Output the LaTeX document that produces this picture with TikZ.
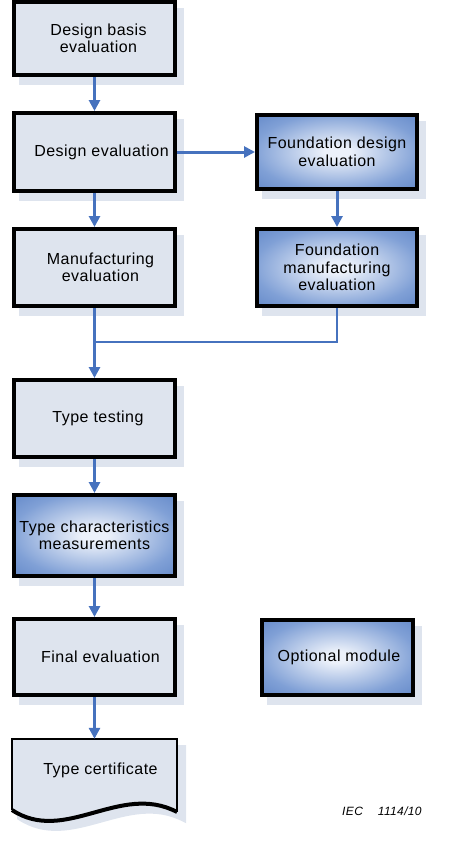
\documentclass[tikz,border=0pt]{standalone}
\usepackage{fontspec}
\setmainfont{Liberation Sans}[LetterSpace=3]
\usetikzlibrary{arrows.meta,shadows}

\definecolor{dotfill}{RGB}{222,228,238}
\definecolor{modblue}{RGB}{64,108,184}
\definecolor{modmid}{RGB}{128,160,214}
\definecolor{modlight}{RGB}{236,241,250}
\definecolor{linkblue}{RGB}{70,114,190}
\pgfdeclareradialshading{modshade}{\pgfpoint{0bp}{0bp}}{color(0bp)=(modlight); color(4bp)=(modlight); color(26bp)=(modmid); color(50bp)=(modblue)}

\begin{document}
\begin{tikzpicture}[x=1pt,y=-1pt]
            \tikzstyle{every node}=[font=\fontsize{16}{17.5}\selectfont, align=center, text=black]
            \tikzstyle{stage}=[rectangle, draw=black, line width=4pt, minimum width=161pt, minimum height=77pt, inner sep=0pt,
                drop shadow={shadow xshift=7pt, shadow yshift=-8pt, fill=dotfill, draw=dotfill, line width=4pt, opacity=1}]
            \tikzstyle{plain}=[stage, fill=dotfill]
            \tikzstyle{module}=[stage, shading=modshade]
            \tikzstyle{edge}=[linkblue, line width=3pt, -{Triangle[width=11pt,length=11pt]}]
            \tikzstyle{link}=[linkblue, line width=2pt]

            \useasboundingbox (0,0) rectangle (450,849);

            \node[plain, minimum height=73pt] (basis) at (94.5,38.5) {\hspace*{8pt}Design basis\\\hspace*{8pt}evaluation};
            \node[plain, minimum height=78pt] (design) at (94.5,152) {\hspace*{14pt}Design evaluation};
            \node[module, minimum width=160pt, minimum height=74pt] (fdesign) at (337,152) {Foundation design\\evaluation};
            \node[plain] (manuf) at (94.5,267.5) {\hspace*{12pt}Manufacturing\\\hspace*{12pt}evaluation};
            \node[module, minimum width=160pt] (fmanuf) at (337,267.5) {Foundation\\manufacturing\\evaluation};
            \node[plain] (testing) at (94.5,418.5) {\hspace*{7pt}Type testing};
            \node[module, minimum height=81pt] (typechar) at (94.5,535.5) {Type characteristics\\measurements};
            \node[plain, minimum height=76pt] (final) at (94.5,657) {\hspace*{12pt}Final evaluation};
            \node[module, minimum width=151pt, minimum height=75pt] (optional) at (337.5,657) {\hspace*{3pt}Optional module};

            % certificate sheet with wavy lower edge
            \fill[dotfill, draw=dotfill, line width=4pt, xshift=7pt, yshift=-8pt]
                (12,739) -- (177,739) -- (177,812) .. controls (120,782) and (65,845) .. (12,810) -- cycle;
            \fill[dotfill] (12,739) -- (177,739) -- (177,812) .. controls (120,782) and (65,845) .. (12,810) -- cycle;
            \draw[black, line width=2.5pt] (12,810) -- (12,739) -- (177,739) -- (177,812);
            \draw[black, line width=4pt] (177,812) .. controls (120,782) and (65,845) .. (12,810);
            \node[minimum width=165pt, minimum height=62pt, inner sep=0pt] (cert) at (94.5,770) {\hspace*{12pt}Type certificate};

            \node[font=\fontsize{12}{14}\selectfont\itshape, anchor=west, inner sep=0pt] (iec) at (342,811) {IEC\hspace{15pt}1114/10};

            \coordinate (merge) at (94.5,342);

            \draw[edge] (basis) -- (design);
            \draw[edge] (design) -- (fdesign);
            \draw[edge] (design) -- (manuf);
            \draw[edge] (fdesign) -- (fmanuf);
            \draw[link] (fmanuf.south) |- (merge);
            \draw[edge] (manuf) -- (testing);
            \draw[edge] (testing) -- (typechar);
            \draw[edge] (typechar) -- (final);
            \draw[edge] (final) -- (cert.north);
        \end{tikzpicture}
\end{document}
